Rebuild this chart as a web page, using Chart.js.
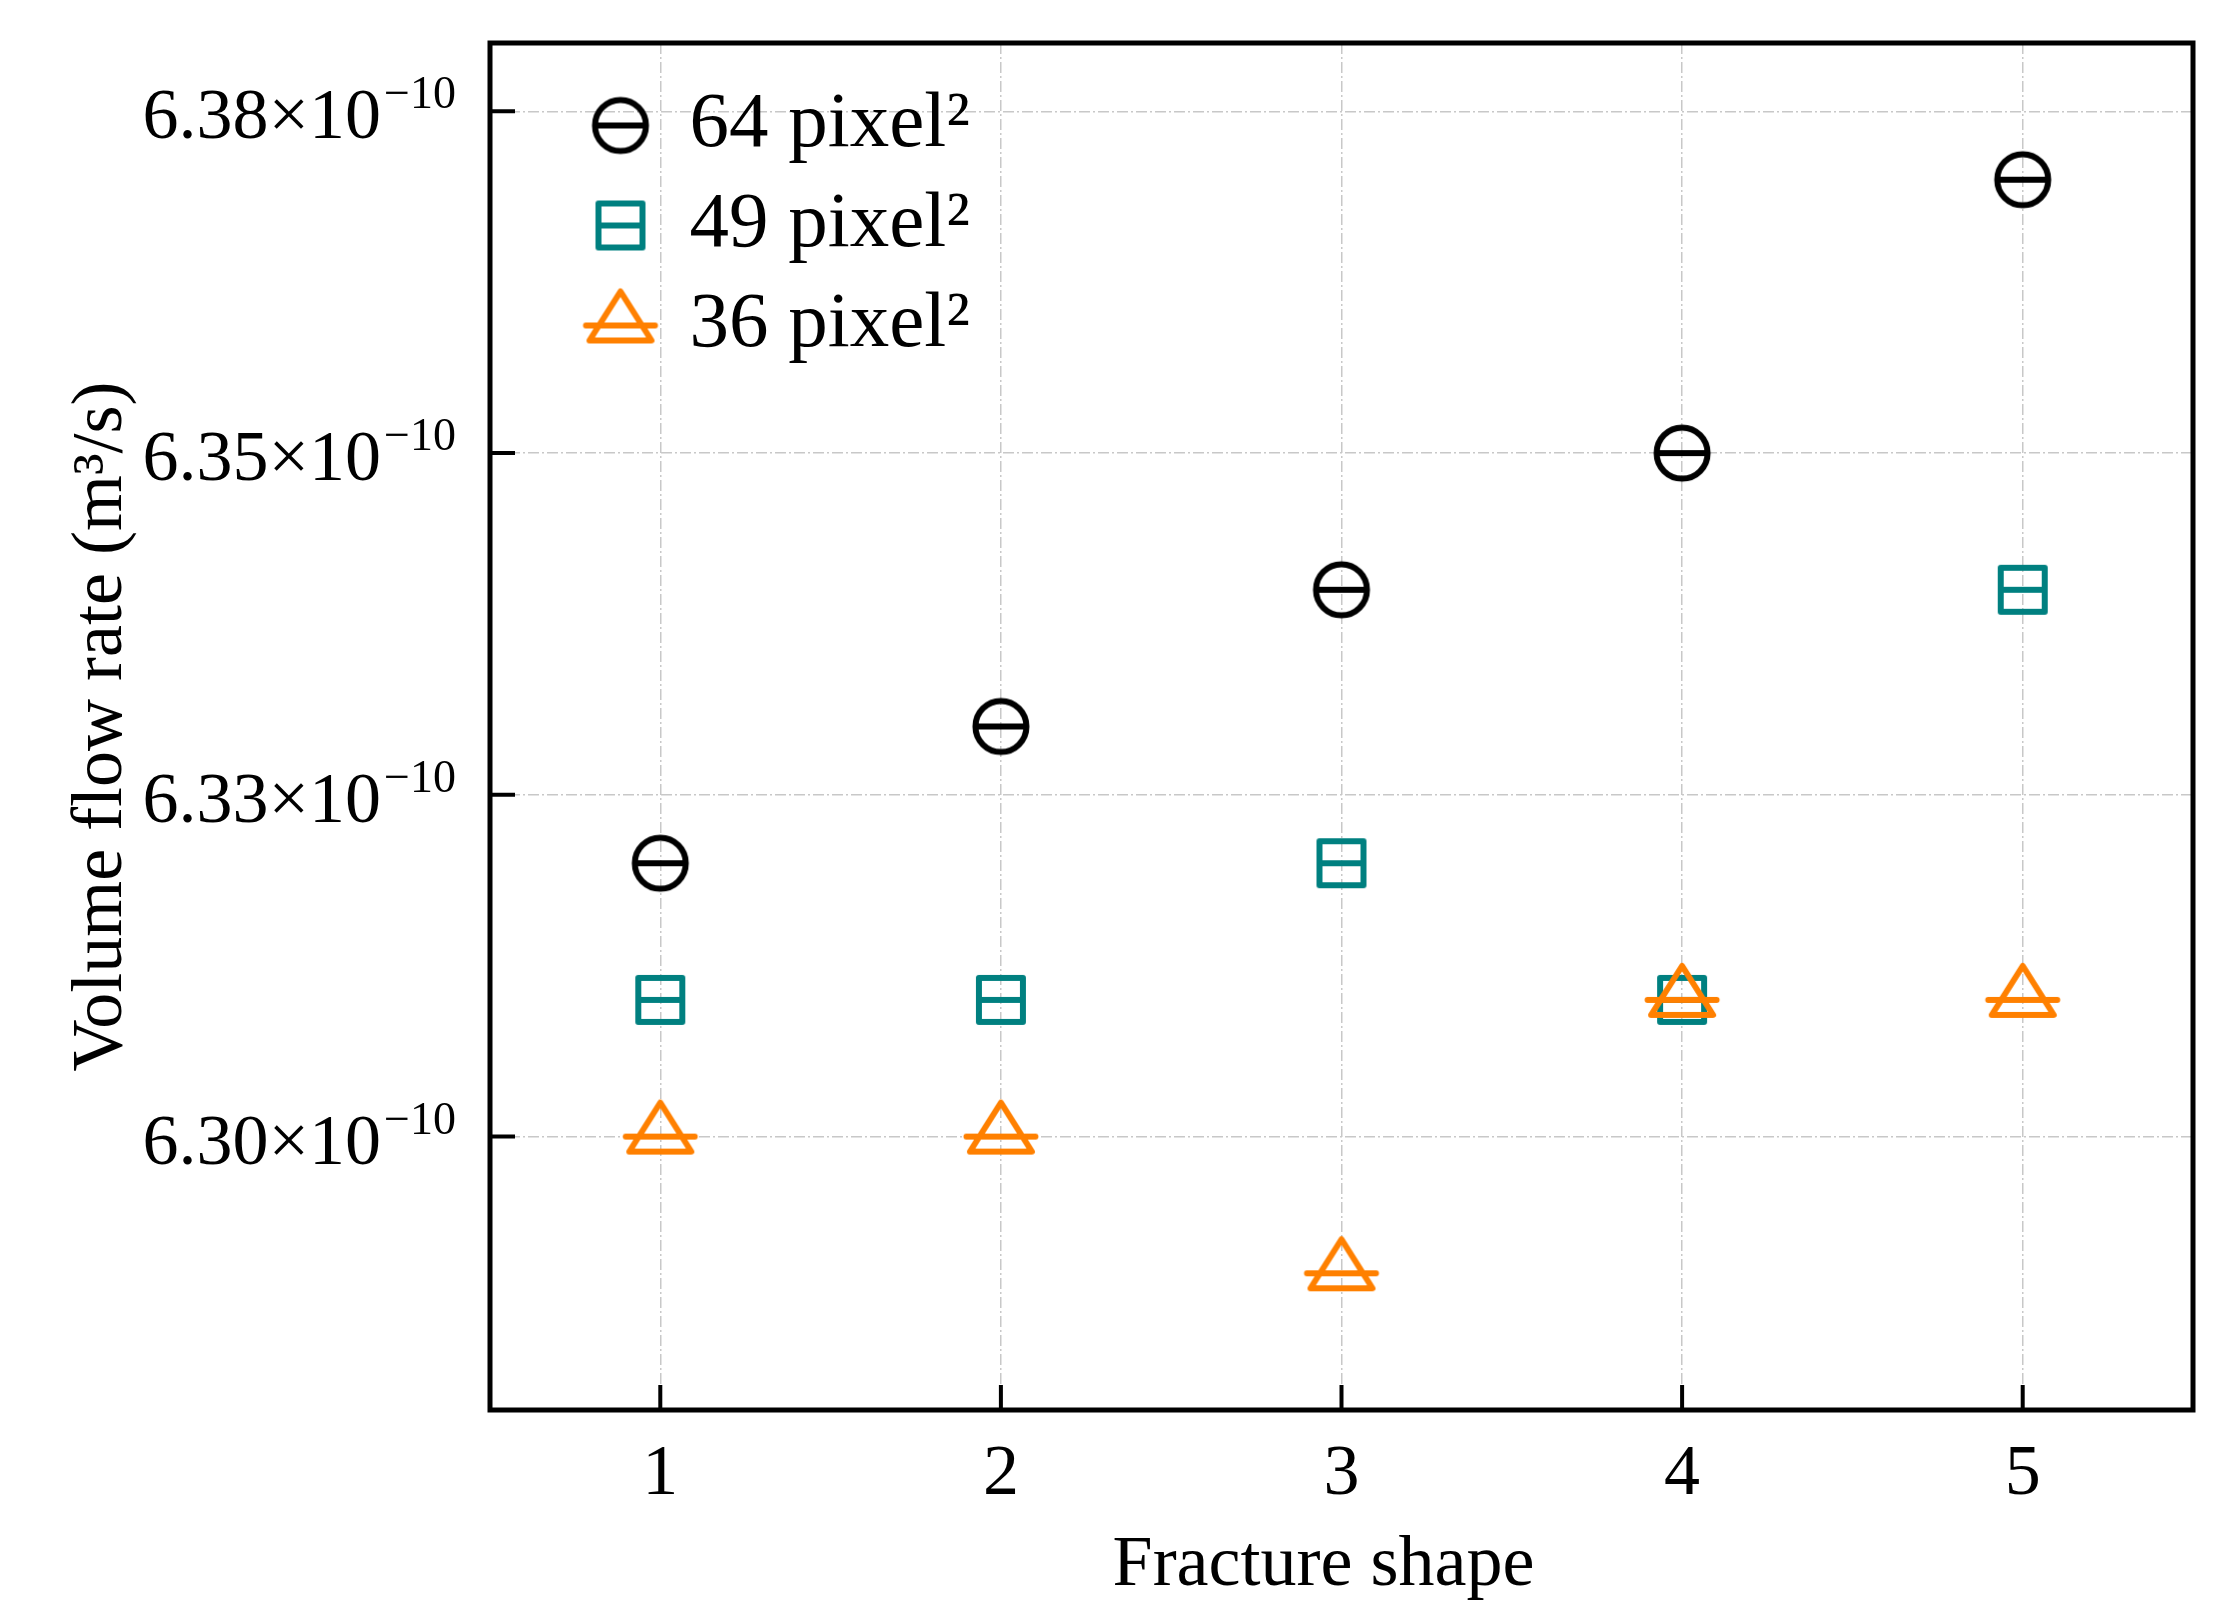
<!DOCTYPE html>
<html>
<head>
<meta charset="utf-8">
<script src="https://cdn.jsdelivr.net/npm/chart.js@4"></script>
<style>
  html, body { margin: 0; padding: 0; background: #fff; }
  #wrap { width: 2236px; height: 1620px; }
</style>
</head>
<body>
<div id="wrap"><canvas id="flowChart"></canvas></div>
<script>
// flow rates are in units of 1e-10 m^3/s
const shapes = [1, 2, 3, 4, 5];
const flow64 = [6.32, 6.33, 6.34, 6.35, 6.37];
const flow49 = [6.31, 6.31, 6.32, 6.31, 6.34];
const flow36 = [6.30, 6.30, 6.29, 6.31, 6.31];
const seriesLabels = ['64 pixel²', '49 pixel²', '36 pixel²'];

const xTicks = [1, 2, 3, 4, 5];
const yTicks = [6.300, 6.325, 6.350, 6.375];
const yTickLabels = ['6.30', '6.33', '6.35', '6.38'];

const FONT = 'Liberation Serif';

// marker with a horizontal bar through it
function makeMarker(shape, color) {
  const c = document.createElement('canvas');
  c.width = 84;
  c.height = 84;
  const g = c.getContext('2d');
  g.translate(42, 42);
  g.strokeStyle = color;
  g.lineWidth = 6;
  g.lineJoin = 'round';
  g.lineCap = 'round';
  g.beginPath();
  if (shape === 'circle') {
    g.arc(0, 0, 25.5, 0, Math.PI * 2);
    g.moveTo(-25.5, 0);
    g.lineTo(25.5, 0);
  } else if (shape === 'square') {
    g.rect(-22, -22, 44, 44);
    g.moveTo(-22, 0);
    g.lineTo(22, 0);
  } else {
    g.moveTo(0, -34);
    g.lineTo(31, 15);
    g.lineTo(-31, 15);
    g.closePath();
    g.moveTo(-34.5, 0);
    g.lineTo(34.5, 0);
  }
  g.stroke();
  return c;
}

const markers = [
  makeMarker('circle', '#000000'),
  makeMarker('square', '#008080'),
  makeMarker('triangle', '#ff8000')
];
const seriesData = [flow64, flow49, flow36];

const datasets = seriesData.map((vals, i) => ({
  label: seriesLabels[i],
  data: shapes.map((x, j) => ({ x: x, y: vals[j] })),
  pointStyle: markers[i],
  pointRadius: 30,
  pointHoverRadius: 30,
  showLine: false,
  order: 2 - i // later series drawn on top, like matplotlib
}));

const gridOpts = { color: '#c8c8c8', lineWidth: 1.5, drawTicks: false };
const borderOpts = { display: false, dash: [11, 3, 2, 3] };

const decor = {
  id: 'decor',
  beforeDraw(chart) {
    // put the legend box inside the axes, upper left
    const lg = chart.legend;
    const a = chart.chartArea;
    lg.left = a.left + 80;
    lg.top = a.top + 22;
    lg.right = chart.width;
    lg.bottom = chart.height;
  },
  afterDraw(chart) {
    const { ctx, chartArea: a, scales: { x, y } } = chart;
    ctx.save();

    // inward ticks
    ctx.strokeStyle = '#000';
    ctx.lineWidth = 4;
    ctx.beginPath();
    yTicks.forEach(v => {
      const py = y.getPixelForValue(v);
      ctx.moveTo(a.left, py);
      ctx.lineTo(a.left + 25, py);
    });
    xTicks.forEach(v => {
      const px = x.getPixelForValue(v);
      ctx.moveTo(px, a.bottom);
      ctx.lineTo(px, a.bottom - 25);
    });
    ctx.stroke();

    // frame
    ctx.lineWidth = 5;
    ctx.strokeRect(a.left, a.top, a.right - a.left, a.bottom - a.top);

    // y tick labels with exponent
    ctx.fillStyle = '#000';
    ctx.textAlign = 'right';
    ctx.textBaseline = 'alphabetic';
    yTicks.forEach((v, i) => {
      const py = y.getPixelForValue(v);
      const right = a.left - 34;
      ctx.font = '46px "' + FONT + '"';
      const exp = '\u221210';
      ctx.fillText(exp, right, py - 3);
      const w = ctx.measureText(exp).width;
      ctx.font = '72px "' + FONT + '"';
      ctx.fillText(yTickLabels[i] + '\u00d710', right - w - 3, py + 27);
    });

    ctx.restore();
  }
};

new Chart(document.getElementById('flowChart'), {
  type: 'scatter',
  data: { datasets: datasets },
  plugins: [decor],
  options: {
    responsive: true,
    maintainAspectRatio: false,
    animation: false,
    layout: { padding: { left: 0, right: 43, top: 43, bottom: 0 } },
    plugins: {
      legend: {
        position: 'chartArea',
        align: 'start',
        labels: {
          usePointStyle: true,
          boxWidth: 59,
          boxHeight: 59,
          padding: 21,
          color: '#000',
          font: { family: FONT, size: 79 },
          sort: (a, b) => a.datasetIndex - b.datasetIndex
        }
      },
      tooltip: { enabled: false }
    },
    scales: {
      x: {
        type: 'linear',
        min: 0.5,
        max: 5.5,
        afterBuildTicks: s => { s.ticks = xTicks.map(v => ({ value: v })); },
        afterFit: s => { s.height = 210; },
        grid: gridOpts,
        border: borderOpts,
        ticks: {
          color: '#000',
          font: { family: FONT, size: 72 },
          padding: 22,
          callback: v => String(v)
        },
        title: {
          display: true,
          text: 'Fracture shape  ',
          color: '#000',
          font: { family: FONT, size: 72 },
          padding: { top: 0, bottom: 11 }
        }
      },
      y: {
        type: 'linear',
        min: 6.28,
        max: 6.38,
        afterBuildTicks: s => { s.ticks = yTicks.map(v => ({ value: v })); },
        afterFit: s => { s.width = 490; },
        grid: gridOpts,
        border: borderOpts,
        ticks: { display: false },
        title: {
          display: true,
          text: 'Volume flow rate (m³/s)',
          color: '#000',
          font: { family: FONT, size: 72 },
          padding: { top: 59, bottom: 0 }
        }
      }
    }
  }
});
</script>
</body>
</html>
